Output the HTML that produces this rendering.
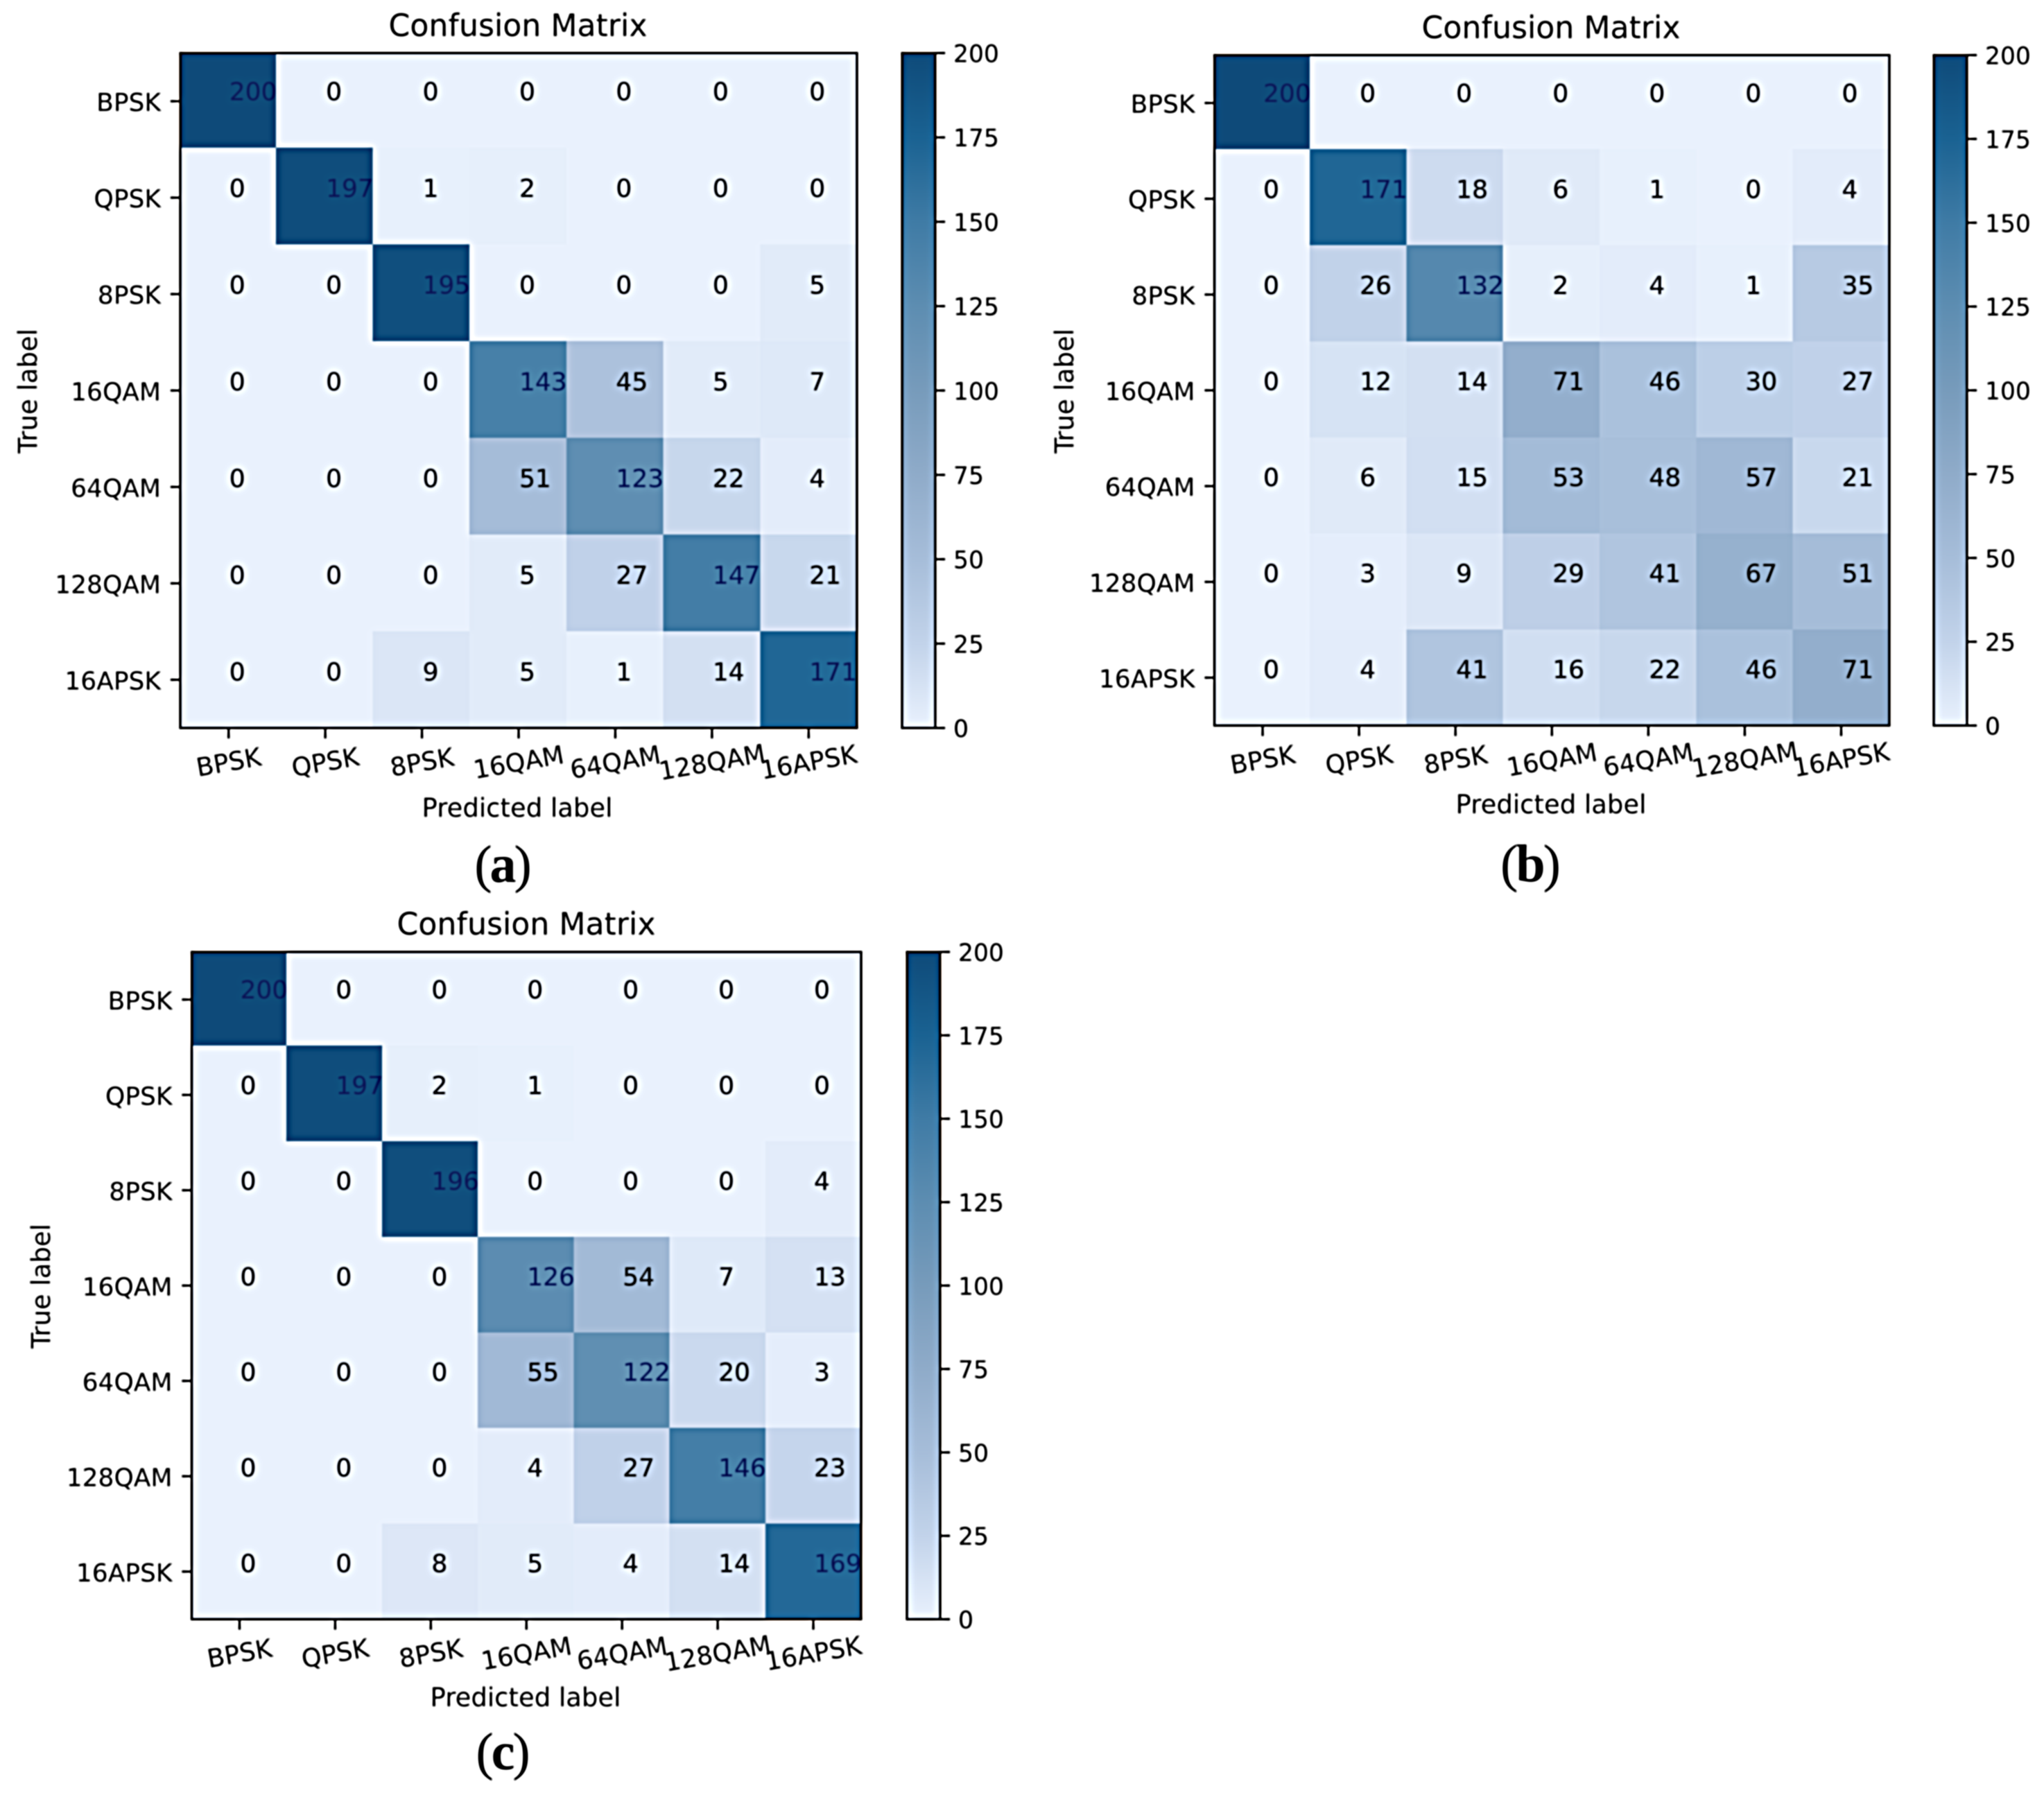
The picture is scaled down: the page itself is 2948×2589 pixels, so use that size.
<!DOCTYPE html>
<html lang="en">
<head>
<meta charset="utf-8">
<title>Confusion Matrices</title>
<style>
html,body{margin:0;padding:0;background:#fff;}
svg{display:block;}
text{font-family:"DejaVu Sans","Liberation Sans",sans-serif;fill:#111;}
.caption{font-family:"Liberation Serif",serif;font-size:76px;letter-spacing:-3px;fill:#000;}
.caption tspan.b{font-weight:bold;}
</style>
</head>
<body>
<svg id="figure" xmlns="http://www.w3.org/2000/svg" width="2948" height="2589" viewBox="0 0 2948 2589">
  <defs>
    <filter id="sharp" filterUnits="userSpaceOnUse" x="0" y="0" width="2948" height="2589" color-interpolation-filters="sRGB">
      <feGaussianBlur in="SourceGraphic" stdDeviation="1.3" result="soft"/>
      <feGaussianBlur in="soft" stdDeviation="5" result="wide"/>
      <feComposite in="soft" in2="wide" operator="arithmetic" k1="0" k2="1.7" k3="-0.7" k4="0"/>
    </filter>
    <linearGradient id="cbar-gradient" x1="0" y1="1" x2="0" y2="0"></linearGradient>
    <clipPath id="clip-a"><rect x="260" y="76.5" width="976" height="973.5"/></clipPath>
    <clipPath id="clip-b"><rect x="1751.5" y="79.5" width="973.5" height="967"/></clipPath>
    <clipPath id="clip-c"><rect x="276.5" y="1373" width="965.5" height="962.5"/></clipPath>
  </defs>
  <g id="canvas" filter="url(#sharp)">
    <rect x="0" y="0" width="2948" height="2589" fill="#fff"/>

    <g id="panel-a">
      <g class="plot"></g>
      <text x="747" y="52" text-anchor="middle" font-size="44.2">Confusion Matrix</text>
      <text x="746" y="1178" text-anchor="middle" font-size="37">Predicted label</text>
      <text x="0" y="0" transform="translate(53 564) rotate(-90)" text-anchor="middle" font-size="37">True label</text>
      <text class="caption" x="724" y="1272" text-anchor="middle">(<tspan class="b">a</tspan>)</text>
    </g>

    <g id="panel-b">
      <g class="plot"></g>
      <text x="2237" y="55" text-anchor="middle" font-size="44.2">Confusion Matrix</text>
      <text x="2237" y="1173" text-anchor="middle" font-size="37">Predicted label</text>
      <text x="0" y="0" transform="translate(1548 564) rotate(-90)" text-anchor="middle" font-size="37">True label</text>
      <text class="caption" x="2206" y="1271" text-anchor="middle">(<tspan class="b">b</tspan>)</text>
    </g>

    <g id="panel-c">
      <g class="plot"></g>
      <text x="759" y="1348" text-anchor="middle" font-size="44.2">Confusion Matrix</text>
      <text x="758" y="2461" text-anchor="middle" font-size="37">Predicted label</text>
      <text x="0" y="0" transform="translate(72 1855) rotate(-90)" text-anchor="middle" font-size="37">True label</text>
      <text class="caption" x="724" y="2552" text-anchor="middle">(<tspan class="b">c</tspan>)</text>
    </g>
  </g>
</svg>
<script>
const categories = ['BPSK', 'QPSK', '8PSK', '16QAM', '64QAM', '128QAM', '16APSK'];
const colorbarTicks = [0, 25, 50, 75, 100, 125, 150, 175, 200];
const matrixA = [
  [200, 0, 0, 0, 0, 0, 0],
  [0, 197, 1, 2, 0, 0, 0],
  [0, 0, 195, 0, 0, 0, 5],
  [0, 0, 0, 143, 45, 5, 7],
  [0, 0, 0, 51, 123, 22, 4],
  [0, 0, 0, 5, 27, 147, 21],
  [0, 0, 9, 5, 1, 14, 171]
];
const matrixB = [
  [200, 0, 0, 0, 0, 0, 0],
  [0, 171, 18, 6, 1, 0, 4],
  [0, 26, 132, 2, 4, 1, 35],
  [0, 12, 14, 71, 46, 30, 27],
  [0, 6, 15, 53, 48, 57, 21],
  [0, 3, 9, 29, 41, 67, 51],
  [0, 4, 41, 16, 22, 46, 71]
];
const matrixC = [
  [200, 0, 0, 0, 0, 0, 0],
  [0, 197, 2, 1, 0, 0, 0],
  [0, 0, 196, 0, 0, 0, 4],
  [0, 0, 0, 126, 54, 7, 13],
  [0, 0, 0, 55, 122, 20, 3],
  [0, 0, 0, 4, 27, 146, 23],
  [0, 0, 8, 5, 4, 14, 169]
];
const colorMin = 0;
const colorMax = 200;
const paletteColors = ['#e9f1fd', '#c2d3ea', '#a6bdd9', '#8fabc9', '#779bbb', '#5d8db1', '#3f7ba5', '#1a6292', '#0e4a79'];

const SVGNS = 'http://www.w3.org/2000/svg';
const panelLayouts = [
  { id: 'panel-a', key: 'a', matrix: matrixA, left: 260, right: 1236, top: 76.5, bottom: 1050, cbLeft: 1301, cbRight: 1349 },
  { id: 'panel-b', key: 'b', matrix: matrixB, left: 1751.5, right: 2725, top: 79.5, bottom: 1046.5, cbLeft: 2789, cbRight: 2837 },
  { id: 'panel-c', key: 'c', matrix: matrixC, left: 276.5, right: 1242, top: 1373, bottom: 2335.5, cbLeft: 1308, cbRight: 1356 }
];

function hexToRgb(h) {
  return [parseInt(h.slice(1, 3), 16), parseInt(h.slice(3, 5), 16), parseInt(h.slice(5, 7), 16)];
}
function colorFor(v) {
  const t = Math.max(0, Math.min(1, (v - colorMin) / (colorMax - colorMin))) * (paletteColors.length - 1);
  const i = Math.min(Math.floor(t), paletteColors.length - 2);
  const f = t - i;
  const a = hexToRgb(paletteColors[i]);
  const b = hexToRgb(paletteColors[i + 1]);
  return 'rgb(' + a.map((c, k) => Math.round(c + (b[k] - c) * f)).join(',') + ')';
}
function mk(parent, tag, attrs, content) {
  const el = document.createElementNS(SVGNS, tag);
  for (const k in attrs) el.setAttribute(k, attrs[k]);
  if (content !== undefined) el.textContent = content;
  parent.appendChild(el);
  return el;
}

const gradient = document.getElementById('cbar-gradient');
paletteColors.forEach(function (c, i) {
  mk(gradient, 'stop', { offset: (i / (paletteColors.length - 1)), 'stop-color': c });
});

panelLayouts.forEach(function (p) {
  const root = document.querySelector('#' + p.id + ' .plot');
  const n = categories.length;
  const xBand = (p.right - p.left) / n;
  const yBand = (p.bottom - p.top) / n;
  const xScale = function (i) { return p.left + i * xBand; };
  const yScale = function (i) { return p.top + i * yBand; };
  /* the picture is slightly larger than the axes and is clipped at the top and left */
  const cellW = xBand * 1.002;
  const cellH = yBand * 1.003;
  const cellX = function (i) { return p.right - (n - i) * cellW; };
  const cellY = function (i) { return p.bottom - (n - i) * cellH; };
  const cbScale = function (v) { return p.bottom - (v - colorMin) / (colorMax - colorMin) * (p.bottom - p.top); };

  const cells = mk(root, 'g', { 'clip-path': 'url(#clip-' + p.key + ')' });
  
  
  p.matrix.forEach(function (row, r) {
    row.forEach(function (v, c) {
      const cell = mk(cells, 'rect', {
        x: cellX(c), y: cellY(r), width: cellW + 0.5, height: cellH + 0.5,
        fill: colorFor(v), 'shape-rendering': 'crispEdges'
      });
      
      
    });
  });

  p.matrix.forEach(function (row, r) {
    row.forEach(function (v, c) {
      const label = mk(root, 'text', {
        x: xScale(c + 0.5) + 1, y: cellY(r + 0.5) + 1, 'font-size': 36,
        'text-anchor': 'start', style: 'fill:' + (v > 100 ? '#0b1f5e' : '#050505')
      }, String(v));
      
      
    });
  });

  const frame = mk(root, 'rect', {
    x: p.left, y: p.top, width: p.right - p.left, height: p.bottom - p.top,
    fill: 'none', stroke: '#000', 'stroke-width': 3
  });
  
  

  categories.forEach(function (name, i) {
    const tx = xScale(i + 0.5);
    const xt = mk(root, 'line', { x1: tx, x2: tx, y1: p.bottom, y2: p.bottom + 15, stroke: '#000', 'stroke-width': 3 });
    
    
    const cy = p.bottom + 49;
    const xl = mk(root, 'text', {
      x: tx, y: cy + 13, 'font-size': 36.5, 'text-anchor': 'middle',
      transform: 'rotate(-10 ' + tx + ' ' + cy + ')'
    }, name);
    
    

    const ty = yScale(i + 0.5);
    const yt = mk(root, 'line', { x1: p.left - 14, x2: p.left, y1: ty, y2: ty, stroke: '#000', 'stroke-width': 3 });
    
    
    const yl = mk(root, 'text', {
      x: p.left - 28, y: ty + 14, 'font-size': 36, 'text-anchor': 'end'
    }, name);
    
    
  });

  const bar = mk(root, 'rect', {
    x: p.cbLeft, y: cbScale(colorMax), width: p.cbRight - p.cbLeft, height: cbScale(colorMin) - cbScale(colorMax),
    fill: 'url(#cbar-gradient)', stroke: '#000', 'stroke-width': 3
  });
  
  

  colorbarTicks.forEach(function (v) {
    const y = cbScale(v);
    const t = mk(root, 'line', { x1: p.cbRight, x2: p.cbRight + 14, y1: y, y2: y, stroke: '#000', 'stroke-width': 3 });
    
    
    const l = mk(root, 'text', { x: p.cbRight + 26, y: y + 13, 'font-size': 34.5, 'text-anchor': 'start' }, String(v));
    
    
  });
});
</script>
</body>
</html>
